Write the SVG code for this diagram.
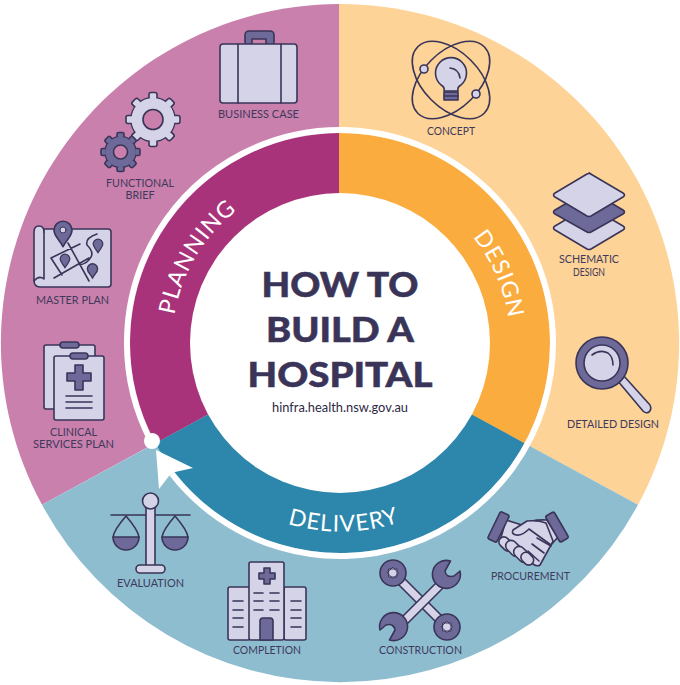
<svg xmlns="http://www.w3.org/2000/svg" width="680" height="685" viewBox="0 0 680 685">
<style>
.i{stroke:#3a3558;stroke-width:1.6;stroke-linejoin:round;stroke-linecap:round}
.l{fill:#d5d3e8}.m{fill:#6d6a9a}.n{fill:none}
.t{font-family:Lato,"Noto Sans",sans-serif;font-size:10.500px;fill:#3f3a5c;text-anchor:middle;stroke:none}
.b{font-family:Lato,"Noto Sans",sans-serif;font-size:23px;fill:#fff;letter-spacing:1px}
.h{font-family:Lato,"Noto Sans",sans-serif;font-size:33.500px;font-weight:900;fill:#3a3558;stroke:#3a3558;stroke-width:.5px;text-anchor:middle}
</style>
<defs>
<path id="p1" d="M174.400 315A168 168 0 0 1 340 175"/>
<path id="p2" d="M472.900 237A170 170 0 0 1 510 343"/>
<path id="p3" d="M210 478A187 187 0 0 0 476 474"/>
<path id="gt" d="M-4 -20V-25Q-4 -27 -2 -27H2Q4 -27 4 -25V-20Z"/>
<path id="gs" d="M-3.500 -14V-18Q-3.500 -19.500 -2 -19.500H2Q3.500 -19.500 3.500 -18V-14Z"/>
<path id="pin" d="M0 8.500C-2 4 -6 1.500 -6 -2.500A6 6 0 0 1 6 -2.500C6 1.500 2 4 0 8.500Z"/>
<path id="jaw" d="M450.500 561A14 14 0 1 0 460 571L454 576Q446 578 445 571Z"/>
<path id="st" d="M-4 -4H4V4H-4ZM0 -5.600L5.600 0L0 5.600L-5.600 0Z"/>
</defs>
<g id="sectors">
<path d="M339 343V4A339 339 0 0 0 42 504.800Z" fill="#c980ad"/>
<path d="M339 343V4A339 339 0 0 1 638 504.800Z" fill="#fdd397"/>
<path d="M340 343L42 504.800A339 339 0 0 0 638 504.800Z" fill="#8ebdd0"/>
<path d="M339 343V133A210 210 0 0 0 155.500 443.200Z" fill="#a9337b"/>
<path d="M339 343V133A210 210 0 0 1 524.500 443.200Z" fill="#fbac3e"/>
<path d="M340 343L155.500 443.200A210 210 0 0 0 524.500 443.200Z" fill="#2d86ab"/>
<circle cx="340" cy="343" r="150" fill="#fff"/>
</g>
<g id="connectors">
<path d="M151.100 441.500A213 213 0 0 1 340 130A213 213 0 0 1 553 343A213 213 0 0 1 172 474" fill="none" stroke="#fff" stroke-width="6"/>
<circle cx="152" cy="441" r="8" fill="#fff"/>
<path d="M156 450L193 468L175 472L169 476L159 489Z" fill="#fff"/>
</g>
<g id="center">
<text class="h" x="340" y="297" textLength="157" lengthAdjust="spacingAndGlyphs">HOW TO</text>
<text class="h" x="340" y="342" textLength="148" lengthAdjust="spacingAndGlyphs">BUILD A</text>
<text class="h" x="340" y="387" textLength="185" lengthAdjust="spacingAndGlyphs">HOSPITAL</text>
<text x="340" y="412" font-family="Lato,'Noto Sans',sans-serif" font-size="13.500" fill="#2c2a44" text-anchor="middle" textLength="136" lengthAdjust="spacingAndGlyphs">hinfra.health.nsw.gov.au</text>
</g>
<g id="phase-planning"><text class="b"><textPath href="#p1" startOffset="0">PLANNING</textPath></text></g>
<g id="phase-design"><text class="b"><textPath href="#p2" startOffset="0">DESIGN</textPath></text></g>
<g id="phase-delivery"><text class="b"><textPath href="#p3" startOffset="50%" text-anchor="middle">DELIVERY</textPath></text></g>

<g id="business-case" class="i">
<rect class="m" x="245" y="31" width="29" height="15" rx="4"/>
<rect x="252" y="39" width="14" height="6" fill="#c980ad"/>
<rect class="l" x="220" y="44" width="77" height="59" rx="3"/>
<path class="n" d="M238 44V103M281 44V103"/>
<text class="t" x="258.500" y="118" textLength="81" lengthAdjust="spacingAndGlyphs">BUSINESS CASE</text>
</g>
<g id="functional-brief" class="i">
<g transform="translate(153 119.500)">
<circle r="22" class="l"/>
<use href="#gt" class="l"/><use href="#gt" class="l" transform="rotate(45)"/><use href="#gt" class="l" transform="rotate(90)"/><use href="#gt" class="l" transform="rotate(135)"/><use href="#gt" class="l" transform="rotate(180)"/><use href="#gt" class="l" transform="rotate(225)"/><use href="#gt" class="l" transform="rotate(270)"/><use href="#gt" class="l" transform="rotate(315)"/>
<circle r="21.500" class="l" stroke="none"/>
<circle r="10" fill="#c980ad"/>
</g>
<g transform="translate(120.500 152)">
<circle r="15.500" class="m"/>
<use href="#gs" class="m"/><use href="#gs" class="m" transform="rotate(45)"/><use href="#gs" class="m" transform="rotate(90)"/><use href="#gs" class="m" transform="rotate(135)"/><use href="#gs" class="m" transform="rotate(180)"/><use href="#gs" class="m" transform="rotate(225)"/><use href="#gs" class="m" transform="rotate(270)"/><use href="#gs" class="m" transform="rotate(315)"/>
<circle r="15" class="m" stroke="none"/>
<circle r="7" fill="#c980ad"/>
</g>
<text class="t" x="140" y="187" textLength="68" lengthAdjust="spacingAndGlyphs">FUNCTIONAL</text>
<text class="t" x="140" y="199" textLength="29" lengthAdjust="spacingAndGlyphs">BRIEF</text>
</g>
<g id="master-plan" class="i">
<path class="l" d="M44 229H108Q111 229 111 232V284Q111 287 108 287H40Q34 287 34 280V232Q34 226 39 226Q44 226 44 232Z"/>
<path class="n" d="M44 232V279Q39 275 34 281"/>
<path class="n" d="M51 258L80 244M51 258L62 275M54 278L89 258M68 243L89 281M97 234Q85 238 87 245Q94 252 91 257Q88 263 80 265"/>
<use href="#pin" class="m" transform="translate(63 234) scale(1.500)" stroke-width="1.100"/>
<circle cx="63" cy="230" r="3" class="l" stroke-width="1"/>
<use href="#pin" class="m" transform="translate(98 246) scale(.8)"/>
<use href="#pin" class="m" transform="translate(65 261) scale(.8)"/>
<use href="#pin" class="m" transform="translate(92.500 271) scale(.85)"/>
<text class="t" x="72.500" y="304" textLength="73" lengthAdjust="spacingAndGlyphs">MASTER PLAN</text>
</g>
<g id="clinical-services-plan" class="i">
<rect class="l" x="44" y="345" width="51" height="64" rx="2"/>
<rect class="m" x="60" y="342" width="19" height="6" rx="3"/>
<rect class="l" x="54" y="356" width="50" height="64" rx="2"/>
<rect class="m" x="70" y="353" width="18" height="6" rx="3"/>
<path class="m" d="M75 365H83V373H91V381H83V390H75V381H67V373H75Z"/>
<path class="n" d="M66 396H92M66 402H92M66 408H92"/>
<text class="t" x="73.500" y="436" textLength="47" lengthAdjust="spacingAndGlyphs">CLINICAL</text>
<text class="t" x="73.500" y="448" textLength="81" lengthAdjust="spacingAndGlyphs">SERVICES PLAN</text>
</g>
<g id="concept" class="i">
<ellipse class="n" cx="451" cy="80" rx="47" ry="28" transform="rotate(45 451 80)"/>
<ellipse class="n" cx="451" cy="80" rx="47" ry="28" transform="rotate(-45 451 80)"/>
<path class="l" d="M444 91Q445 87 441 85A15.500 15.500 0 1 1 461 85Q457 87 458 91Z"/>
<path class="m" d="M444 92H458V100H444Z"/>
<path class="n" d="M444 96H458M450 68Q459 69 460 78"/>
<circle class="l" cx="424" cy="69" r="4"/>
<circle class="l" cx="476" cy="94" r="4"/>
<text class="t" x="451" y="135" textLength="48" lengthAdjust="spacingAndGlyphs">CONCEPT</text>
</g>
<g id="schematic-design" class="i">
<path class="l" d="M589 206L623 226Q626 228 623 230L591 249Q589 250 587 249L555 230Q552 228 555 226Z"/>
<path class="m" d="M589 190L623 210Q626 212 623 214L591 232Q589 233 587 232L555 214Q552 212 555 210Z"/>
<path class="l" d="M589 173L623 193Q626 195 623 197L591 216Q589 217 587 216L555 197Q552 195 555 193L587 174Q589 173 591 174Z"/>
<text class="t" x="589" y="263" textLength="60" lengthAdjust="spacingAndGlyphs">SCHEMATIC</text>
<text class="t" x="589" y="276" textLength="32" lengthAdjust="spacingAndGlyphs">DESIGN</text>
</g>
<g id="detailed-design" class="i">
<path class="l" d="M617 380L623 375L650 405Q652 409 649 412Q646 414 643 411Z"/>
<circle class="m" cx="602" cy="363" r="26"/>
<circle class="l" cx="602" cy="363" r="18"/>
<path class="n" d="M592 355Q600 349 608 353Q613 357 613 365"/>
<text class="t" x="613" y="428" textLength="92" lengthAdjust="spacingAndGlyphs">DETAILED DESIGN</text>
</g>
<g id="procurement" class="i">
<path class="l" d="M506 520L522 525Q532 519 547 520L558 537L551 545L540 565Q537 567 533 564L500 541Z"/>
<g class="l">
<rect x="498" y="539" width="16" height="10" rx="5" transform="rotate(45 506 544)"/>
<rect x="505" y="543" width="18" height="11" rx="5.500" transform="rotate(45 514 548)"/>
<rect x="513" y="549" width="18" height="11" rx="5.500" transform="rotate(45 522 554)"/>
<rect x="521" y="554" width="14" height="10" rx="5" transform="rotate(45 528 558)"/>
</g>
<path class="l" d="M513 530L527 521Q538 520 546 523L553 541L551 545L529 529Q522 536 516 535Q511 534 513 530Z"/>
<path class="n" d="M537 538L551 546M532 544L544 553M528 551L539 561"/>
<rect class="m" x="-5" y="-15" width="10" height="30" rx="2" transform="translate(498.500 527) rotate(26)"/>
<rect class="m" x="-5" y="-15" width="10" height="30" rx="2" transform="translate(557 527) rotate(-30)"/>
<text class="t" x="530.500" y="580" textLength="79" lengthAdjust="spacingAndGlyphs">PROCUREMENT</text>
</g>
<g id="construction" class="i">
<path class="l" d="M400 574L452 626L446 632L394 580Z"/>
<circle class="m" cx="393" cy="573" r="13"/>
<use href="#st" class="l" transform="translate(393 573)" stroke-width="1"/>
<circle class="m" cx="447" cy="627" r="13"/>
<use href="#st" class="l" transform="translate(447 627)" stroke-width="1"/>
<path class="l" d="M441 578L447 584L399 632L393 626Z"/>
<use href="#jaw" class="m"/>
<use href="#jaw" class="m" transform="rotate(180 420 600.500)"/>
<text class="t" x="420.500" y="654" textLength="83" lengthAdjust="spacingAndGlyphs">CONSTRUCTION</text>
</g>
<g id="completion" class="i">
<rect class="l" x="228" y="587" width="22" height="53" rx="2"/>
<rect class="l" x="284" y="587" width="22" height="53" rx="2"/>
<rect class="l" x="249" y="562" width="35" height="78" rx="2"/>
<path class="m" d="M264 568H270V573H275V579H270V584H264V579H259V573H264Z"/>
<path class="n" d="M254 593H263M270 593H279M254 601H263M270 601H279M254 610H263M270 610H279M233 601H243M233 610H243M233 618H243M233 627H243M291 601H301M291 610H301M291 618H301M291 627H301"/>
<path class="m" d="M260 640V621Q260 618 263 618H270Q273 618 273 621V640Z"/>
<text class="t" x="267" y="654" textLength="68" lengthAdjust="spacingAndGlyphs">COMPLETION</text>
</g>
<g id="evaluation" class="i">
<path class="n" d="M111 515H190"/>
<path class="m" d="M113 537H139A13 13 0 0 1 113 537Z"/>
<path class="m" d="M162 537H188A13 13 0 0 1 162 537Z"/>
<path class="n" d="M113 537Q114 530 126 516Q138 530 139 537M162 537Q163 530 175 516Q187 530 188 537"/>
<rect class="l" x="146" y="506" width="9" height="60"/>
<circle class="l" cx="150.500" cy="501" r="8"/>
<rect class="l" x="136" y="565" width="29" height="8" rx="4"/>
<text class="t" x="150.500" y="587" textLength="67" lengthAdjust="spacingAndGlyphs">EVALUATION</text>
</g>
</svg>
